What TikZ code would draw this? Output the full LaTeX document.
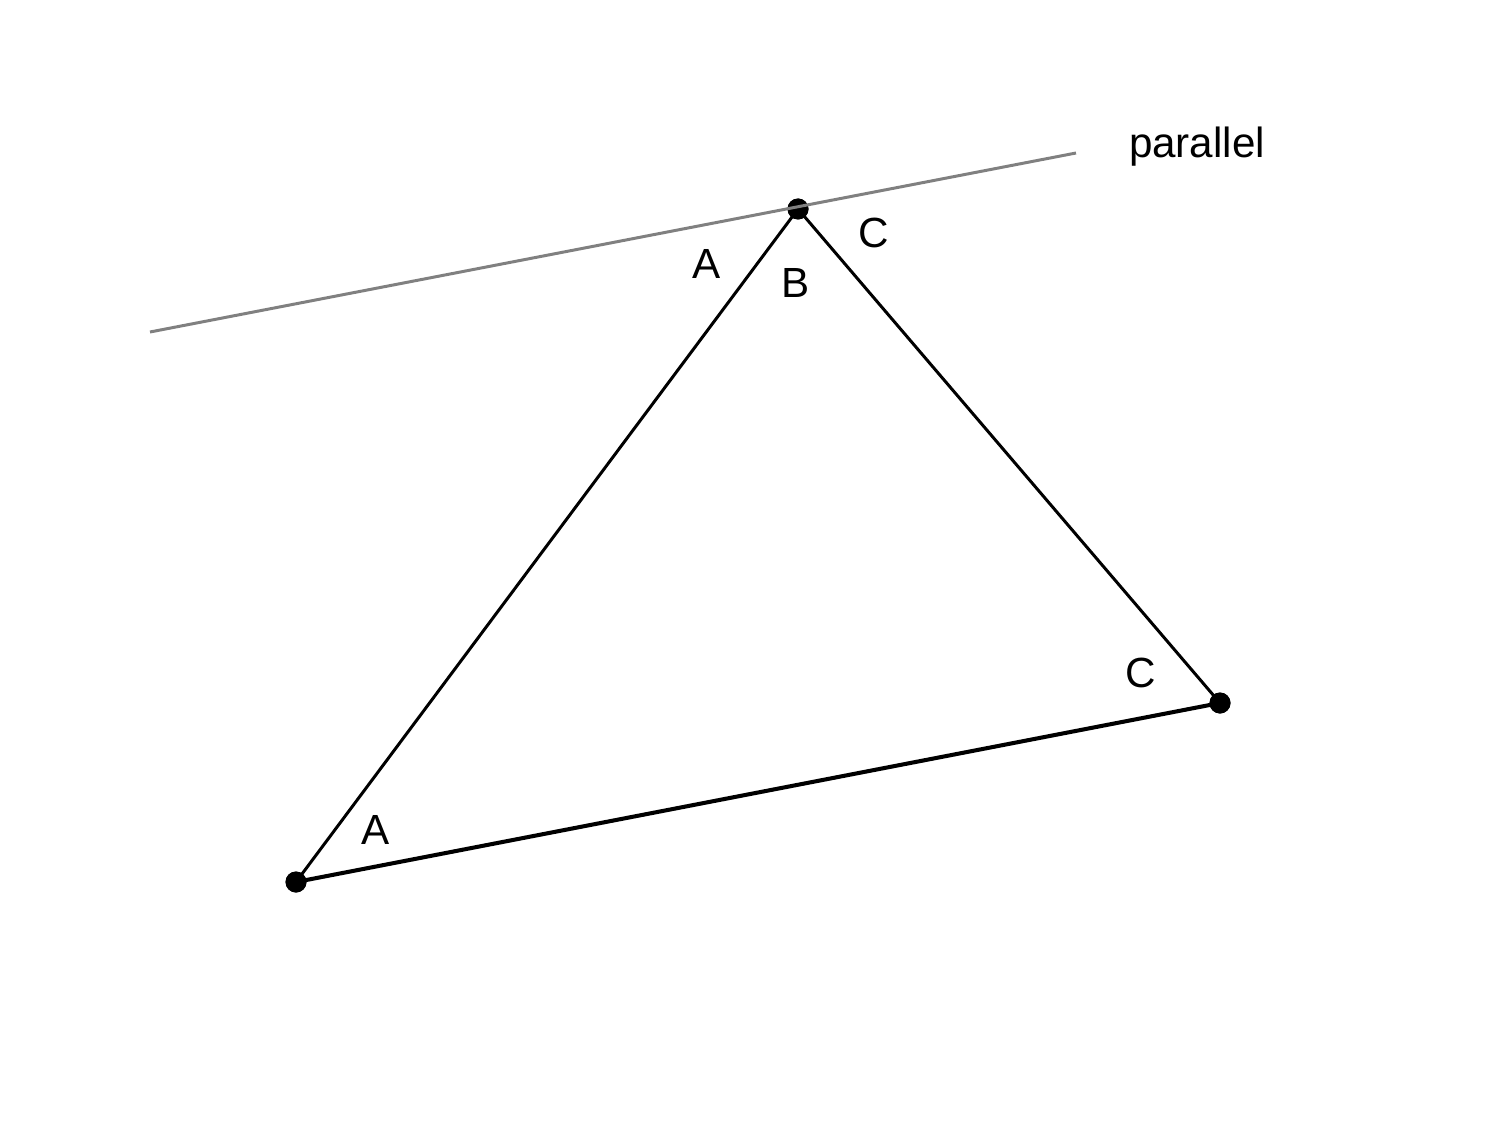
\documentclass[tikz,border=0pt]{standalone}
\usepackage{fontspec}
\setmainfont{Liberation Sans}
\begin{document}
\begin{tikzpicture}[x=0.1mm,y=-0.1mm,
  side/.style={line width=0.85pt,black},
  base/.style={line width=1.15pt,black},
  par/.style={line width=0.85pt,color=gray},
  pt/.style={circle,fill=black,inner sep=0pt,minimum size=2.1mm},
  lab/.style={font=\fontsize{12pt}{14pt}\selectfont,inner sep=0pt}]
\useasboundingbox (0,0) rectangle (1500,1125);
\node[pt] (L) at (296,882) {};
\node[pt] (T) at (798,209) {};
\node[pt] (R) at (1220,703) {};
\draw[side] (L.center) -- (T.center);
\draw[side] (T.center) -- (R.center);
\draw[base] (L.center) -- (R.center);
\node[pt] at (T) {};
\node[pt] at (L) {};
\node[pt] at (R) {};
\coordinate (P1) at (150,332);
\coordinate (P2) at (1076,153);
\draw[par] (P1) -- (P2);
\node[lab] (tpar) at (1197,147) {parallel};
\node[lab] (a1) at (707,264) {A};
\node[lab] (b1) at (796,283) {B};
\node[lab] (c1) at (874,233) {C};
\node[lab] (c2) at (1141,673) {C};
\node[lab] (a2) at (376,830) {A};
\end{tikzpicture}
\end{document}
